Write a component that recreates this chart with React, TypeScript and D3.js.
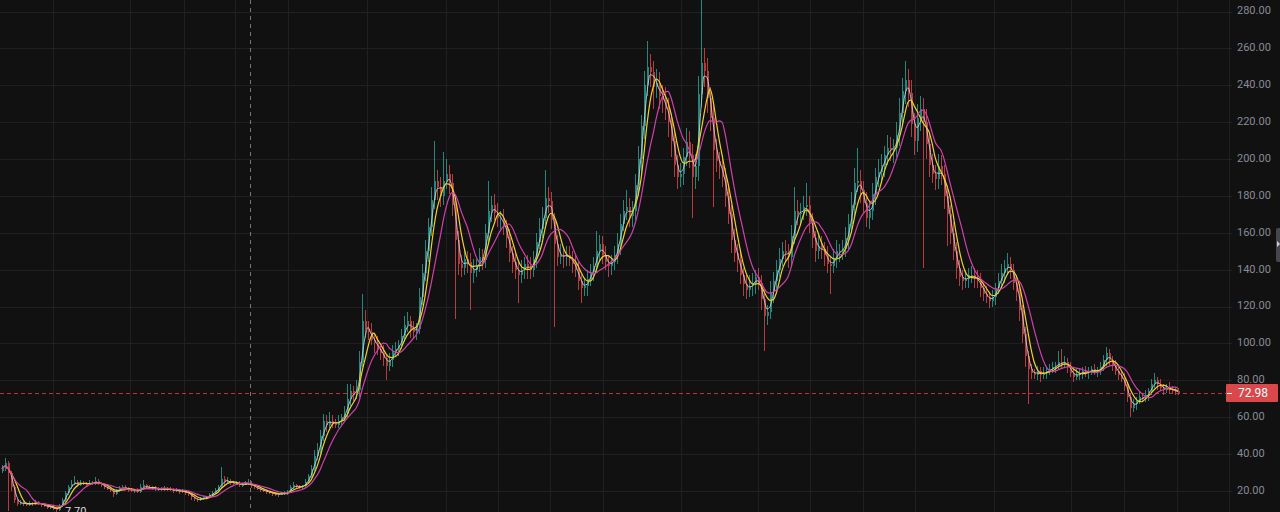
import React from 'react';
import * as d3 from 'd3';

// closing prices, one per bar (oldest first)
const closes = [
  32, 35, 30, 22, 15, 13, 14, 13, 12.5, 13.5,
  13, 14, 13, 12.5, 12, 11, 11.5, 10.5, 9.5, 12,
  15, 19, 22, 24, 25, 23.5, 24.5, 24, 23.5, 24.5,
  24, 25.5, 24, 23, 22, 21, 20.5, 18.5, 20, 21.5,
  22, 21.5, 20.5, 20, 20.5, 19.5, 22, 23, 22, 21.5,
  21, 21.5, 20.5, 21, 21.5, 20.5, 21, 20, 20.5, 19.5,
  20, 19, 18.5, 16.5, 15.5, 15, 15.5, 16.5, 17, 18,
  19, 20.5, 22, 26.5, 25, 25.5, 24.5, 24, 24.5, 23,
  23.5, 24, 24.5, 22.5, 22, 21, 20.5, 20, 19.5, 19,
  18.5, 18, 18.5, 18.5, 19, 19.5, 22, 23, 22.5, 22,
  22.5, 25, 28, 32, 39, 42, 50, 58, 56, 58,
  57, 56, 58, 60, 62, 70, 74, 72, 75, 90,
  112, 108, 106, 102, 100, 97, 95, 92, 88, 91,
  96, 97, 99, 104, 110, 112, 108, 106, 108, 125,
  138, 150, 163, 178, 188, 185, 180, 188, 192, 187,
  175, 156, 143, 141, 146, 144, 138, 140, 142, 147,
  145, 160, 172, 175, 171, 168, 168, 163, 157, 149,
  144, 140, 137, 140, 143, 141, 140, 146, 155, 162,
  168, 179, 177, 167, 154, 147, 148, 147, 148, 146,
  143, 140, 134, 130, 131, 135, 139, 142, 150, 154,
  148, 144, 142, 144, 148, 154, 165, 172, 174, 169,
  172, 186, 200, 218, 240, 250, 247, 239, 241, 234,
  232, 227, 220, 210, 197, 190, 192, 201, 209, 202,
  190, 196, 235, 252, 248, 233, 222, 205, 199, 196,
  190, 180, 170, 156, 149, 145, 137, 132, 129, 131,
  133, 136, 133, 124, 115, 117, 128, 134, 140, 146,
  150, 149, 147, 158, 172, 170, 171, 174, 175, 166,
  157, 150, 153, 151, 148, 143, 142, 146, 150, 150,
  151, 157, 165, 175, 187, 188, 183, 176, 168, 172,
  181, 190, 193, 197, 202, 206, 205, 206, 213, 225,
  237, 243, 236, 219, 210, 222, 227, 220, 208, 197,
  192, 189, 196, 192, 180, 170, 160, 150, 141, 136,
  134, 135, 137, 137, 135, 134, 130, 127, 125, 123,
  125, 130, 134, 138, 141, 143, 140, 133, 128, 118,
  105, 93, 86, 84, 83, 85, 83, 84, 85, 86,
  87, 88, 90, 89, 90, 87, 84, 82, 83, 84,
  85, 84, 85, 86, 85, 85, 87, 91, 95, 91,
  88, 85, 83, 81, 77, 71, 65, 67, 69, 71,
  70, 72, 74, 78, 80, 78, 76, 75, 76, 75,
  74.5, 74, 72.98,
];

// high above the body, per bar
const wickUp = [
  2, 3, 1, 1, 1, 0.5, 1, 0.5, 0.5, 1,
  0.5, 1, 0.5, 0.5, 1, 0.5, 1, 0.5, 0.5, 1,
  1, 1, 1.5, 2, 3, 1, 1.5, 1, 1, 1.5,
  1, 2, 1, 1, 0.5, 1, 0.5, 0.5, 1, 1,
  1.5, 1, 0.5, 1, 0.5, 1, 2, 3, 1, 1,
  1, 1, 0.5, 1, 1, 0.5, 1, 0.5, 1, 0.5,
  1, 0.5, 0.5, 0.5, 1, 0.5, 1, 1, 0.5, 1,
  1, 1, 1.5, 6.5, 1.5, 2, 1, 1, 1, 1,
  1, 1.5, 2, 1, 0.5, 1, 0.5, 1, 0.5, 0.5,
  0.5, 1, 0.5, 1, 1, 1, 1.5, 2, 1, 1,
  1, 1.5, 1, 2, 3, 4, 3, 4, 3, 5,
  3, 2, 3, 2, 4, 8, 4, 3, 5, 6,
  15, 6, 4, 5, 3, 4, 3, 4, 2, 4,
  3, 4, 3, 4, 5, 5, 3, 4, 3, 5,
  5, 6, 5, 7, 22, 6, 5, 16, 8, 5,
  5, 6, 5, 5, 6, 4, 5, 6, 4, 5,
  4, 5, 16, 5, 6, 5, 4, 5, 4, 5,
  4, 5, 4, 5, 4, 5, 6, 4, 5, 6,
  6, 15, 6, 5, 4, 5, 6, 4, 5, 5,
  4, 5, 4, 3, 4, 5, 4, 5, 11, 5,
  4, 5, 4, 4, 5, 6, 5, 6, 9, 5,
  5, 6, 7, 6, 8, 14, 7, 6, 8, 6,
  6, 7, 6, 5, 6, 5, 6, 5, 8, 6,
  6, 7, 10, 34, 8, 7, 6, 8, 6, 5,
  6, 5, 6, 5, 6, 5, 5, 4, 5, 6,
  5, 4, 5, 4, 5, 4, 6, 5, 5, 6,
  5, 6, 5, 6, 13, 6, 5, 6, 12, 5,
  5, 4, 6, 5, 4, 5, 4, 5, 6, 4,
  5, 6, 5, 7, 8, 18, 6, 5, 6, 5,
  6, 5, 7, 6, 5, 7, 6, 5, 7, 8,
  7, 10, 6, 7, 6, 8, 7, 6, 7, 6,
  6, 5, 7, 6, 5, 6, 5, 6, 5, 4,
  4, 5, 4, 5, 4, 5, 4, 3, 4, 3,
  4, 3, 4, 5, 4, 6, 4, 3, 4, 3,
  3, 4, 3, 3, 2, 3, 2, 3, 2, 3,
  3, 2, 6, 7, 3, 2, 3, 2, 3, 2,
  2, 3, 2, 2, 3, 2, 3, 3, 3, 2,
  2, 3, 2, 2, 3, 2, 2, 3, 2, 3,
  2, 3, 2, 3, 4, 2, 3, 2, 2, 3,
  2, 1.5, 2,
];

// low below the body, per bar
const wickDown = [
  1, 1, 21, 2, 1.5, 1, 0.5, 1, 0.5, 0.5,
  1, 0.5, 0.5, 1, 0.5, 1, 0.5, 1, 1.8, 0.5,
  0.5, 1, 1, 1, 1, 1.5, 1, 1, 1, 0.5,
  1, 0.5, 1, 1, 1, 0.5, 1, 1.5, 0.5, 0.5,
  0.5, 1, 1, 0.5, 1, 0.5, 0.5, 1, 1, 0.5,
  0.5, 1, 0.5, 0.5, 1, 0.5, 0.5, 1, 0.5, 1,
  0.5, 1, 1, 1.5, 1, 1, 0.5, 0.5, 1, 0.5,
  0.5, 0.5, 1, 1, 1.5, 1, 1, 0.5, 1, 1,
  1, 0.5, 1, 1, 1, 0.5, 1, 0.5, 1, 0.5,
  1, 0.5, 1, 0.5, 0.5, 1, 0.5, 1, 1, 1,
  1, 0.5, 1, 1, 1, 2, 2, 3, 4, 2,
  3, 2, 2, 3, 2, 2, 4, 3, 2, 4,
  3, 5, 4, 3, 5, 3, 4, 4, 8, 3,
  4, 3, 4, 2, 3, 4, 5, 3, 4, 3,
  4, 4, 6, 5, 5, 7, 6, 5, 4, 6,
  6, 43, 6, 5, 4, 6, 20, 5, 4, 3,
  5, 4, 5, 6, 4, 5, 6, 4, 5, 5,
  6, 5, 15, 4, 5, 6, 5, 4, 5, 4,
  5, 4, 6, 5, 45, 5, 4, 6, 5, 4,
  5, 4, 5, 8, 4, 5, 4, 5, 4, 6,
  5, 4, 6, 5, 4, 5, 6, 4, 5, 6,
  6, 5, 6, 8, 7, 6, 8, 12, 6, 7,
  7, 6, 8, 9, 7, 6, 5, 6, 5, 7,
  22, 6, 8, 7, 9, 8, 7, 31, 6, 7,
  5, 6, 5, 7, 5, 6, 5, 6, 5, 4,
  5, 6, 4, 6, 19, 5, 4, 6, 5, 4,
  4, 5, 6, 5, 4, 6, 5, 4, 5, 6,
  5, 6, 4, 5, 6, 5, 15, 4, 5, 6,
  5, 4, 6, 5, 6, 5, 7, 6, 5, 6,
  5, 6, 5, 6, 7, 5, 6, 7, 5, 6,
  6, 7, 8, 7, 8, 6, 7, 79, 8, 7,
  5, 6, 5, 6, 7, 17, 6, 5, 6, 5,
  5, 4, 5, 4, 5, 4, 5, 4, 3, 4,
  3, 4, 3, 4, 5, 4, 5, 4, 5, 6,
  5, 6, 19, 3, 2, 3, 4, 2, 3, 2,
  2, 3, 2, 3, 2, 3, 2, 3, 2, 3,
  3, 2, 3, 2, 2, 3, 2, 2, 3, 3,
  3, 2, 3, 2, 3, 3, 5, 2, 3, 2,
  2, 2, 3, 2, 2, 3, 2, 3, 2, 2,
  1.5, 2, 1,
];

const firstOpen = 31;
const priceTicks = [20, 40, 60, 80, 100, 120, 140, 160, 180, 200, 220, 240, 260, 280];
// time-scale grid, in bar units
const timeTicks = [17, 42.7, 60.7, 77.7, 95.3, 121.7, 148, 165.3, 182.7, 200.3, 226.3, 252, 269.3, 287, 304.3, 330.7, 356.3, 374, 391.7, 409];
const crosshairBar = 82.7;
const lastPrice = 72.98;
const lowBar = 18;
const lowPrice = 7.7;

const maSeries = [
  { period: 3, color: '#dcdcdc', width: 1, opacity: 0.8 },
  { period: 5, color: '#f2d31b', width: 1.2, opacity: 1 },
  { period: 9, color: '#d23fae', width: 1.2, opacity: 1 },
];

const W = 1280;
const H = 512;
const paneRight = 1232;

const sma = (values: number[], period: number) =>
  values.map((_, i) => d3.mean(values.slice(Math.max(0, i - period + 1), i + 1)) as number);

const App: React.FC = () => {
  const n = closes.length;
  const x = d3.scaleLinear().domain([0, n - 1]).range([2, 2 + 3 * (n - 1)]);
  const y = d3.scaleLinear().domain([20, 280]).range([491, 11.5]);

  const candles = closes.map((c, i) => {
    const o = i === 0 ? firstOpen : closes[i - 1];
    return { i, o, c, h: Math.max(o, c) + wickUp[i], l: Math.min(o, c) - wickDown[i] };
  });

  const line = d3.line<number>()
    .x((_, i) => x(i))
    .y(d => y(d))
    .curve(d3.curveMonotoneX);

  const up = '#26a69a';
  const down = '#e0474a';
  const font = "Roboto, 'DejaVu Sans', sans-serif";

  return (
    <svg width={W} height={H} style={{ position: 'absolute', left: 0, top: 0, display: 'block', background: '#111111' }}>
      <rect width={W} height={H} fill="#111111" />
      <g stroke="#202024" strokeWidth={1} shapeRendering="crispEdges">
        {priceTicks.map(p => (
          <line key={'h' + p} x1={0} x2={paneRight} y1={Math.round(y(p)) + 0.5} y2={Math.round(y(p)) + 0.5} />
        ))}
        {timeTicks.map(t => (
          <line key={'v' + t} x1={Math.round(x(t)) + 0.5} x2={Math.round(x(t)) + 0.5} y1={0} y2={H} />
        ))}
      </g>

      <line x1={Math.round(x(crosshairBar)) + 0.5} x2={Math.round(x(crosshairBar)) + 0.5} y1={0} y2={H}
        stroke="#74767e" strokeWidth={1} strokeDasharray="4 4" />

      <g shapeRendering="crispEdges">
        {candles.map(d => {
          const col = d.c >= d.o ? up : down;
          const cx = Math.round(x(d.i));
          const top = y(Math.max(d.o, d.c));
          const bh = Math.max(1, y(Math.min(d.o, d.c)) - top);
          return (
            <g key={d.i} fill={col} opacity={0.8}>
              <rect x={cx} y={y(d.h)} width={1} height={Math.max(1, y(d.l) - y(d.h))} />
              <rect x={cx - 0.5} y={top} width={2} height={bh} />
            </g>
          );
        })}
      </g>

      {maSeries.map(m => (
        <path key={m.period} d={line(sma(closes, m.period)) || ''} fill="none"
          stroke={m.color} strokeWidth={m.width} strokeOpacity={m.opacity} />
      ))}

      <line x1={0} x2={paneRight} y1={Math.round(y(lastPrice)) + 0.5} y2={Math.round(y(lastPrice)) + 0.5}
        stroke={down} strokeOpacity={0.75} strokeWidth={1} strokeDasharray="4 3" />

      <text x={x(lowBar) + 9} y={y(lowPrice) - 2} dominantBaseline="middle" fill="#d8d8d8"
        fontFamily={font} fontSize={11}>{lowPrice.toFixed(2)}</text>

      <g fontFamily={font} fontSize={11} fill="#878b95">
        {priceTicks.map(p => (
          <text key={p} x={1237} y={y(p)} dominantBaseline="middle">{p.toFixed(2)}</text>
        ))}
      </g>

      <rect x={1226} y={Math.round(y(lastPrice)) - 9} width={52} height={18} fill="#d9484b" rx={1} />
      <line x1={1227} x2={1232} y1={Math.round(y(lastPrice)) + 0.5} y2={Math.round(y(lastPrice)) + 0.5} stroke="#ffffff" />
      <text x={1253} y={y(lastPrice) + 0.5} textAnchor="middle" dominantBaseline="middle" fill="#ffffff"
        fontFamily={font} fontSize={12}>{lastPrice.toFixed(2)}</text>

      <rect x={1276} y={228} width={6} height={34} fill="#45474d" rx={2} />
      <path d="M1277,241 L1280,244 L1277,247 Z" fill="#d0d0d0" />
    </svg>
  );
};

export default App;
